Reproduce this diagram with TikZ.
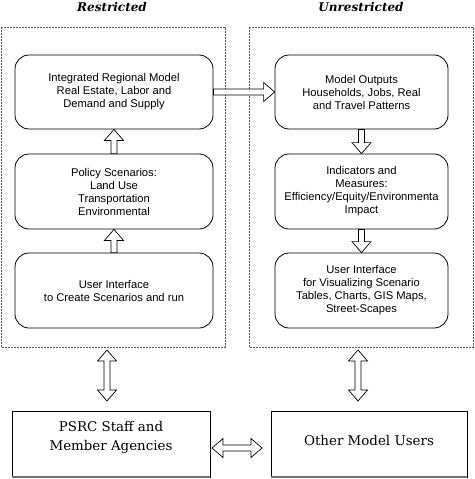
\documentclass[tikz,border=0pt]{standalone}
\usepackage{fontspec}
\newfontfamily\boxfont{Liberation Sans}
\newfontfamily\serfont{DejaVu Serif}
\usetikzlibrary{calc}
\tikzset{
  rbox/.style={draw, line width=0.8pt, rounded corners=14pt, align=center,
    font=\boxfont\fontsize{11.2}{13}\selectfont, inner sep=2pt},
  sbox/.style={draw, line width=0.8pt, align=center,
    font=\serfont\fontsize{13.4}{19}\selectfont, inner sep=2pt},
  zone/.style={draw=black!65, line width=0.6pt, dash pattern=on 2pt off 1pt},
  hollow/.style={draw, fill=white, line width=0.7pt, line join=miter},
  ttl/.style={font=\serfont\fontsize{12}{15}\selectfont\bfseries\itshape}
}
\newcommand\HollowArrow[2]{%
  \path #1 coordinate (ha) #2 coordinate (hb);
  \path ($(hb)!11pt!(ha)$) coordinate (hc);
  \draw[hollow] ($(ha)!3pt!90:(hb)$) -- ($(hc)!3pt!-90:(ha)$) -- ($(hc)!9.5pt!-90:(ha)$)
    -- (hb) -- ($(hc)!9.5pt!90:(ha)$) -- ($(hc)!3pt!90:(ha)$) -- ($(ha)!3pt!-90:(hb)$) -- cycle;
}
\newcommand\HollowDArrow[2]{%
  \path #1 coordinate (ha) #2 coordinate (hb);
  \path ($(hb)!11pt!(ha)$) coordinate (hc);
  \path ($(ha)!11pt!(hb)$) coordinate (hd);
  \draw[hollow] (ha) -- ($(hd)!9.5pt!90:(hb)$) -- ($(hd)!3pt!90:(hb)$) -- ($(hc)!3pt!-90:(ha)$) -- ($(hc)!9.5pt!-90:(ha)$)
    -- (hb) -- ($(hc)!9.5pt!90:(ha)$) -- ($(hc)!3pt!90:(ha)$) -- ($(hd)!3pt!-90:(hb)$) -- ($(hd)!9.5pt!-90:(hb)$) -- cycle;
}
\begin{document}
\begin{tikzpicture}[x=1pt,y=-1pt]
\useasboundingbox (0,0) rectangle (474,479);
% titles
\node[ttl] (tR) at (112,7) {Restricted};
\node[ttl] (tU) at (361,7) {Unrestricted};
% zones
\draw[zone] (1,27) rectangle (225,347);
\draw[zone] (249,27) rectangle (473,347);
% left boxes
\node[rbox, minimum width=198pt, minimum height=74pt] (L1) at (114,92)
  {Integrated Regional Model\\Real Estate, Labor and\\Demand and Supply};
\node[rbox, minimum width=198pt, minimum height=75pt] (L2) at (114,191.5)
  {Policy Scenarios:\\Land Use\\Transportation\\Environmental};
\node[rbox, minimum width=198pt, minimum height=75pt] (L3) at (114,290.5)
  {User Interface\\to Create Scenarios and run};
% right boxes
\node[rbox, minimum width=173pt, minimum height=74pt] (R1) at (361.5,92)
  {Model Outputs\\Households, Jobs, Real\\and Travel Patterns};
\node[rbox, minimum width=173pt, minimum height=75pt] (R2) at (361.5,191.5)
  {Indicators and\\Measures:\\Efficiency/Equity/Environmenta\\Impact};
\node[rbox, minimum width=173pt, minimum height=75pt] (R3) at (361.5,290.5)
  {User Interface\\for Visualizing Scenario\\Tables, Charts, GIS Maps,\\Street-Scapes};
% bottom boxes
\node[sbox, minimum width=198pt, minimum height=66pt, text depth=16pt] (B1) at (111,444)
  {PSRC Staff and\\Member Agencies};
\node[sbox, minimum width=196pt, minimum height=66pt, text depth=8pt] (B2) at (369,444)
  {Other Model Users};
\draw[black!55, line width=2pt] (B1.south west) -- (B1.south east);
\draw[black!55, line width=2pt] (B2.south west) -- (B2.south east);
% arrows
\HollowArrow{(L2.north)}{(L1.south)}
\HollowArrow{(L3.north)}{(L2.south)}
\HollowArrow{(L1.east)}{(R1.west)}
\HollowArrow{(R1.south)}{(R2.north)}
\HollowArrow{(R2.south)}{(R3.north)}
\coordinate (dl1) at (107,350);
\coordinate (dl2) at (107,401);
\coordinate (dr1) at (358,350);
\coordinate (dr2) at (358,401);
\HollowDArrow{(dl1)}{(dl2)}
\HollowDArrow{(dr1)}{(dr2)}
\coordinate (hb1) at (212,448);
\coordinate (hb2) at (262,448);
\HollowDArrow{(hb1)}{(hb2)}
\end{tikzpicture}
\end{document}
